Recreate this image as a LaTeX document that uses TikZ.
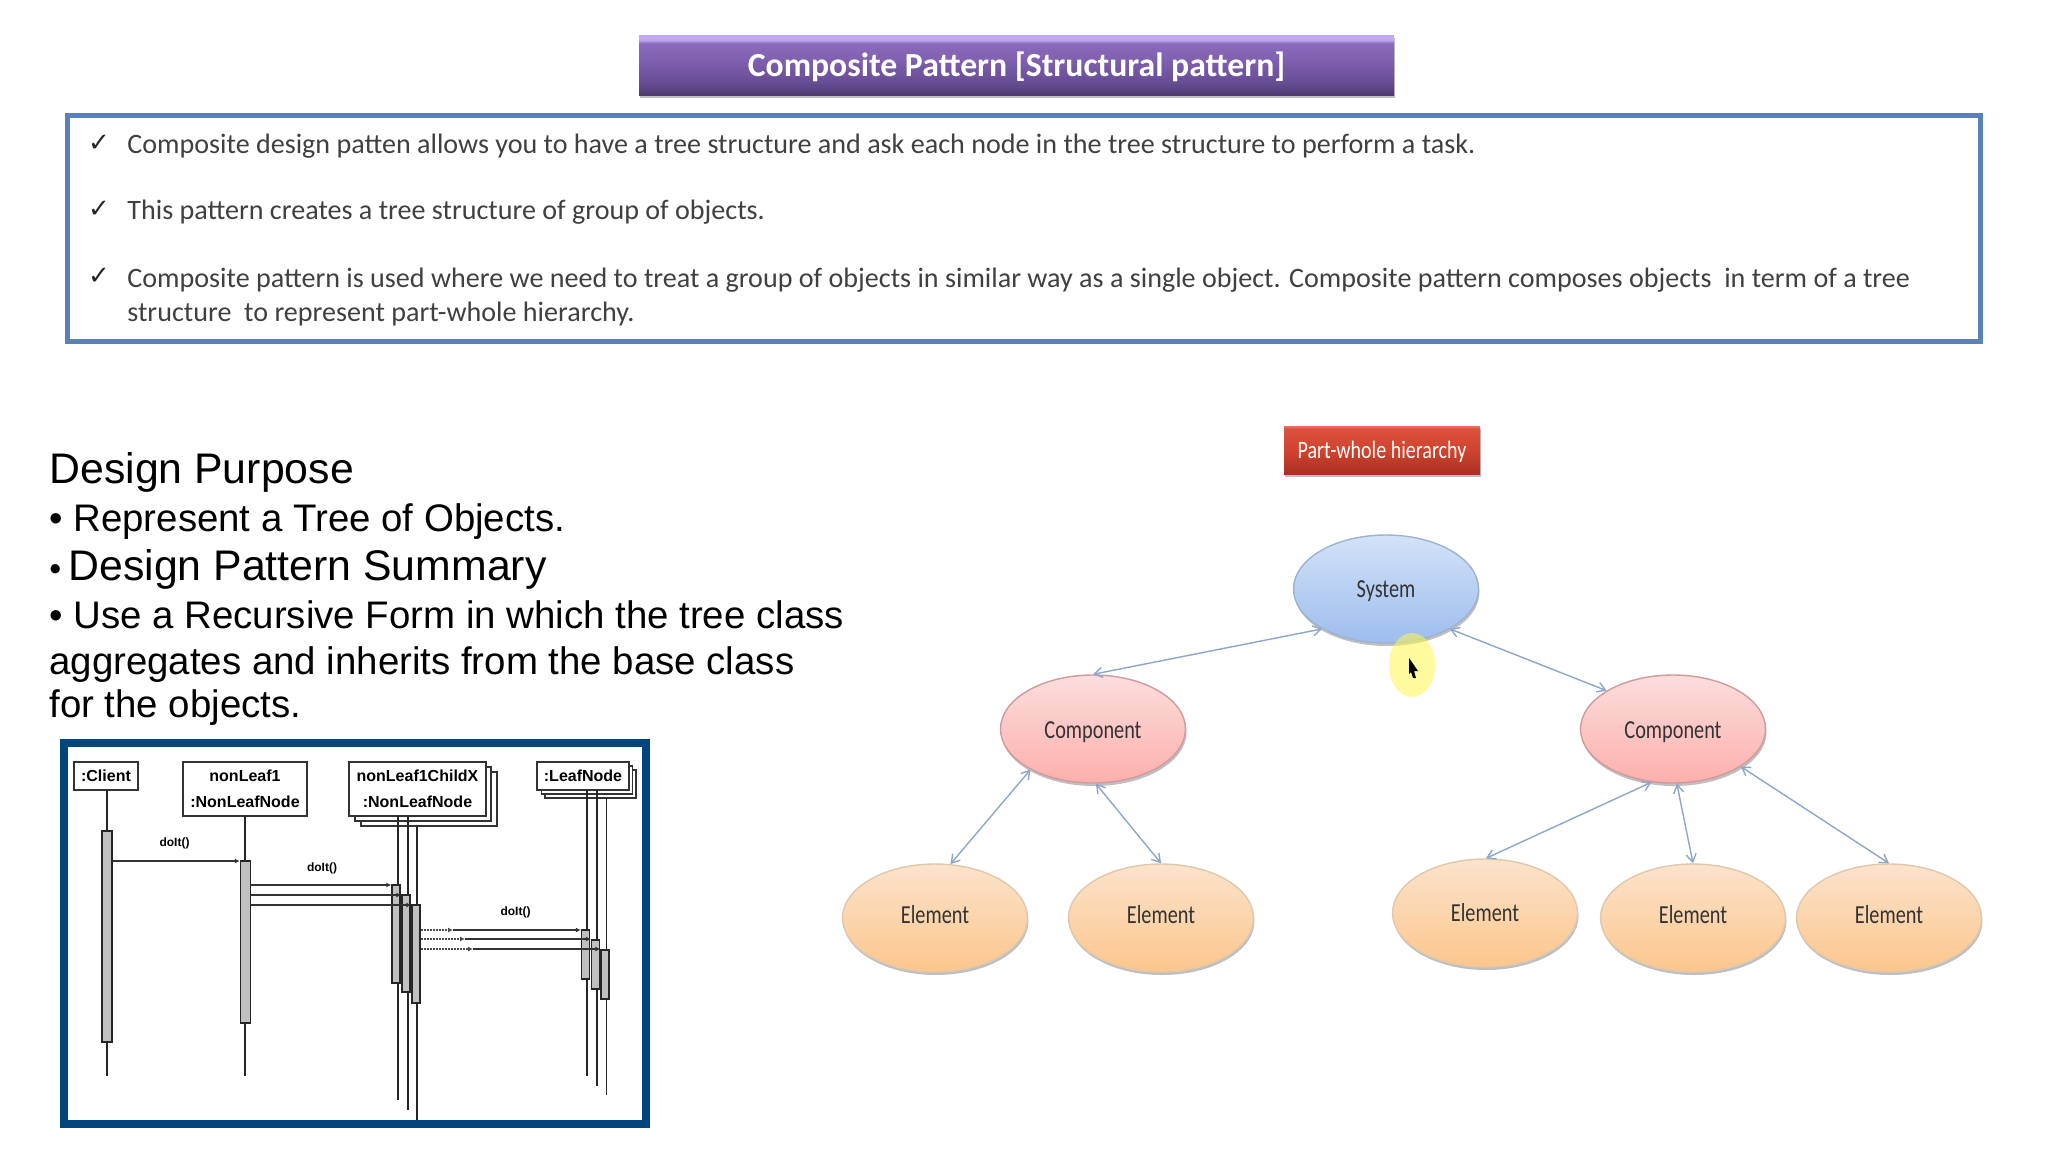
\documentclass[tikz,border=0pt]{standalone}
\usepackage{fontspec}
\setmainfont{Liberation Sans}
\newfontfamily\cali{Carlito}
\newfontfamily\dejav{DejaVu Sans}
\usetikzlibrary{arrows.meta,shapes.geometric,shadows}
\definecolor{framebl}{HTML}{5B82B8}
\definecolor{seqbl}{HTML}{00457E}
\definecolor{linkbl}{HTML}{8FA6C8}
\definecolor{txtgrey}{HTML}{404040}
\definecolor{actgrey}{HTML}{C0C0C0}
\definecolor{pa}{HTML}{4E3A72}
\definecolor{pb}{HTML}{664C92}
\definecolor{pc}{HTML}{8060B0}
\definecolor{pd}{HTML}{8A6ABC}
\definecolor{pe}{HTML}{C0A8F0}
\definecolor{ra}{HTML}{A93024}
\definecolor{rb}{HTML}{D0442F}
\definecolor{rc}{HTML}{D9503C}
\definecolor{rd}{HTML}{EE7060}
\definecolor{sysT}{HTML}{D3E2F7}
\definecolor{sysB}{HTML}{9DBDEE}
\definecolor{sysD}{HTML}{9DB2D0}
\definecolor{compT}{HTML}{FBDEDC}
\definecolor{compB}{HTML}{FCAFAC}
\definecolor{compD}{HTML}{D09A9C}
\definecolor{elemT}{HTML}{FBE3CC}
\definecolor{elemB}{HTML}{FCC68C}
\definecolor{elemD}{HTML}{E0C8AC}
\pgfdeclareverticalshading{purpshade}{100bp}{color(0bp)=(pa);color(25bp)=(pa);color(35bp)=(pb);color(55bp)=(pc);color(68bp)=(pd);color(71bp)=(pe);color(75bp)=(pe);color(100bp)=(pe)}
\pgfdeclareverticalshading{redshade}{100bp}{color(0bp)=(ra);color(25bp)=(ra);color(50bp)=(rb);color(72bp)=(rc);color(75bp)=(rd);color(100bp)=(rd)}
\newcommand{\narrowtext}[1]{\scalebox{0.78}[1]{#1}}
\tikzset{
 x=0.5pt,y=-0.5pt,
 softshadow/.style={drop shadow={shadow xshift=0.5pt,shadow yshift=-1.5pt,opacity=.25,fill=black}},
 banner/.style={rectangle,inner sep=0pt,softshadow,text=white,text depth=0pt},
 bodyline/.style={anchor=base west,inner sep=0pt,text=txtgrey,font=\cali\fontsize{14.05}{16}\selectfont},
 tick/.style={anchor=base,inner sep=0pt,text=black!85,font=\dejav\fontsize{13}{15}\selectfont},
 bigline/.style={anchor=base west,inner sep=0pt,font=\fontsize{21.4}{24}\selectfont},
 midline/.style={anchor=base west,inner sep=0pt,font=\fontsize{19.2}{22}\selectfont},
 blob/.style={ellipse,inner sep=0pt,minimum width=92.5pt,minimum height=54pt,line width=.7pt,text=black!80,softshadow,text depth=0pt,font=\cali\fontsize{13}{14}\selectfont},
 sysblob/.style={blob,draw=sysD,top color=sysT,bottom color=sysB,text height=8pt},
 compblob/.style={blob,draw=compD,top color=compT,bottom color=compB,text height=9.2pt},
 elemblob/.style={blob,draw=elemD,top color=elemT,bottom color=elemB,text height=5.6pt},
 link/.style={draw=linkbl,line width=.7pt,{Straight Barb[length=4pt,width=5pt]}-{Straight Barb[length=4pt,width=5pt]}},
 seqbox/.style={draw=black!80,fill=white,line width=.6pt,inner sep=0pt,align=center,font=\bfseries\fontsize{8}{12.8}\selectfont},
 seqback/.style={draw=black!80,fill=white,line width=.6pt,inner sep=0pt},
 act/.style={draw=black!85,fill=actgrey,line width=.7pt,inner sep=0pt},
 life/.style={draw=black!85,line width=.55pt},
 msg/.style={draw=black!80,line width=.6pt,-{Latex[length=2.5pt,width=2.5pt]}},
 dots/.style={draw=black!70,line width=.6pt,dash pattern=on 1pt off .5pt,-{Latex[length=2.5pt,width=2.5pt]}},
 callname/.style={inner sep=0pt,font=\bfseries\fontsize{6}{7}\selectfont},
}
\begin{document}
\begin{tikzpicture}
\useasboundingbox (0,0) rectangle (2048,1152);
\fill[white] (0,0) rectangle (2048,1152);

% title
\node[banner,minimum width=377.5pt,minimum height=30pt,shading=purpshade,text height=11pt,font=\cali\bfseries\fontsize{16.85}{18}\selectfont] (title) at (1016.5,65) {Composite Pattern [Structural pattern]};

% text panel
\node[draw=framebl,line width=2.2pt,fill=white,rectangle,inner sep=0pt,minimum width=956.5pt,minimum height=113pt] (panel) at (1024,228.5) {};
\node[tick] (t1) at (99,151) {✓};
\node[tick] (t2) at (99,217) {✓};
\node[tick] (t3) at (99,284) {✓};
\node[bodyline] (l1) at (127,153) {Composite design patten allows you to have a tree structure and ask each node in the tree structure to perform a task.};
\node[bodyline] (l2) at (127,219) {This pattern creates a tree structure of group of objects.};
\node[bodyline] (l3) at (127,287) {Composite pattern is used where we need to treat a group of objects in similar way as a single object. Composite pattern composes objects\ \ in term of a tree};
\node[bodyline] (l4) at (127,321) {structure\ \ to represent part-whole hierarchy.};

% left text
\node[bigline] (p1) at (49,483) {Design Purpose};
\node[midline] (p2) at (49,531) {• Represent a Tree of Objects.};
\node[bigline] (p3) at (49,580) {{\fontsize{17}{18}\selectfont •}\,Design Pattern Summary};
\node[midline] (p4) at (49,628) {• Use a Recursive Form in which the tree class};
\node[midline] (p5) at (49,674) {aggregates and inherits from the base class};
\node[midline] (p6) at (49,717) {for the objects.};

% sequence diagram
\node[draw=seqbl,line width=3.6pt,fill=white,rectangle,inner sep=0pt,minimum width=291pt,minimum height=190.5pt] (seq) at (355,933.5) {};

\node[seqback,minimum width=68pt,minimum height=27pt] (cb3) at (429,799) {};
\node[seqback,minimum width=68pt,minimum height=27pt] (cb2) at (423,794) {};
\node[seqback,minimum width=45.5pt,minimum height=14pt] (lb3) at (590.5,784) {};
\node[seqback,minimum width=45.5pt,minimum height=14pt] (lb2) at (587,780) {};

\node[seqbox,minimum width=32pt,minimum height=14pt] (client) at (106,776) {:Client};
\node[seqbox,minimum width=62pt,minimum height=27pt] (nl) at (245,789) {nonLeaf1\\:NonLeafNode};
\node[seqbox,minimum width=68.5pt,minimum height=27pt] (cb1) at (417.5,789) {nonLeaf1ChildX\\:NonLeafNode};
\node[seqbox,minimum width=46pt,minimum height=14pt] (lb1) at (583,776) {:LeafNode};

% life-line ends
\coordinate (e1) at (107,1076);
\coordinate (e2) at (245,1076);
\coordinate (e3) at (398,1100);
\coordinate (e4) at (408,1110);
\coordinate (e5) at (417,1120);
\coordinate (e6) at (587,1076);
\coordinate (e7) at (597,1086);
\coordinate (e8) at (606.5,1095);
\draw[life] (107,790) -- (e1);
\draw[life] (245,816) -- (e2);
\draw[life] (398,816) -- (e3);
\draw[life] (408,816) -- (e4);
\draw[life] (417,826) -- (e5);
\draw[life] (587,790) -- (e6);
\draw[life] (597,790) -- (e7);
\draw[life] (606.5,798) -- (e8);

% activations
\node[act,minimum width=5pt,minimum height=105.5pt] (a1) at (107,936.5) {};
\node[act,minimum width=5pt,minimum height=81pt] (a2) at (245.5,942) {};
\node[act,minimum width=4pt,minimum height=49pt] (c1) at (396,934) {};
\node[act,minimum width=4pt,minimum height=48.5pt] (c2) at (406,943.5) {};
\node[act,minimum width=4pt,minimum height=49pt] (c3) at (416,954) {};
\node[act,minimum width=4pt,minimum height=24.5pt] (f1) at (585.5,954.5) {};
\node[act,minimum width=4pt,minimum height=24.5pt] (f2) at (595.5,964.5) {};
\node[act,minimum width=4pt,minimum height=24.5pt] (f3) at (605,974.5) {};

% messages
\draw[msg] (a1.east |- 0,861) -- (a2.west |- 0,861);
\draw[msg] (a2.east |- 0,885) -- (c1.west |- 0,885);
\draw[msg] (a2.east |- 0,895) -- (c2.west |- 0,895);
\draw[msg] (a2.east |- 0,905) -- (c3.west |- 0,905);
\coordinate (m1) at (453,930);
\coordinate (m2) at (465,939);
\coordinate (m3) at (473,949);
\draw[dots] (c3.east |- 0,930) -- (m1);
\draw[dots] (c3.east |- 0,939) -- (m2);
\draw[dots] (c3.east |- 0,949) -- (m3);
\draw[msg] (m1) -- (f1.west |- 0,930);
\draw[msg] (m2) -- (f2.west |- 0,939);
\draw[msg] (m3) -- (f3.west |- 0,949);
\node[callname] (d1) at (174.5,843) {doIt()};
\node[callname] (d2) at (322,868) {doIt()};
\node[callname] (d3) at (515.5,912) {doIt()};

% hierarchy
\node[banner,minimum width=98pt,minimum height=24pt,shading=redshade,text height=8.5pt,font=\cali\fontsize{12.5}{13}\selectfont] (part) at (1382,450) {\scalebox{0.8}[1]{Part-whole hierarchy}};
\node[sysblob] (sys) at (1386,589) {\narrowtext{System}};
\node[compblob] (cl) at (1093,729) {\narrowtext{Component}};
\node[compblob] (cr) at (1673,729) {\narrowtext{Component}};
\node[elemblob] (e1n) at (935,918) {\narrowtext{Element}};
\node[elemblob] (e2n) at (1161,918) {\narrowtext{Element}};
\node[elemblob,text height=8pt] (e3n) at (1485,913) {\narrowtext{Element}};
\node[elemblob] (e4n) at (1693,918) {\narrowtext{Element}};
\node[elemblob] (e5n) at (1889,918) {\narrowtext{Element}};
\draw[link] (sys.212) -- (cl.90);
\draw[link] (sys.-32) -- (cr.150);
\draw[link] (cl.213) -- (e1n.74);
\draw[link] (cl.-87) -- (e2n.90);
\draw[link] (cr.-112) -- (e3n.89);
\draw[link] (cr.-86) -- (e4n.90);
\draw[link] (cr.-29.5) -- (e5n.90);

% pointer highlight
\fill[yellow!70!white,opacity=.55] (1412,665) ellipse [x radius=11.5pt,y radius=16pt];
\fill[black] (1409,658) -- (1418,671) -- (1414,671) -- (1416,678) -- (1413,678) -- (1411,672) -- (1409,674) -- cycle;
\end{tikzpicture}
\end{document}
